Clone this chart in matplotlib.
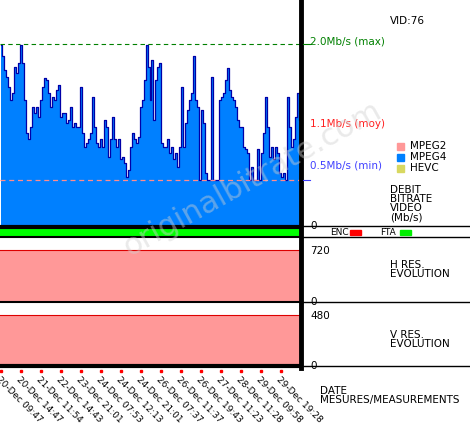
import matplotlib.pyplot as plt
import numpy as np
from matplotlib.lines import Line2D
from matplotlib.patches import Rectangle

# --- data ---
bitrate = [1.99, 1.86, 1.71, 1.64, 1.53, 1.38, 1.46, 1.75, 1.68, 1.79, 1.99, 1.79, 1.38, 1.02, 0.95,
           1.09, 1.31, 1.24, 1.31, 1.20, 1.38, 1.53, 1.62, 1.60, 1.46, 1.31, 1.42, 1.38, 1.49, 1.55,
           1.20, 1.24, 1.24, 1.13, 1.16, 1.31, 1.09, 1.13, 1.09, 1.09, 1.53, 1.02, 0.87, 0.91, 0.95,
           1.02, 1.42, 1.09, 0.91, 0.87, 0.95, 0.87, 1.16, 1.09, 0.76, 0.95, 1.20, 0.95, 0.87, 0.95,
           0.73, 0.76, 0.69, 0.54, 0.62, 0.87, 1.02, 0.95, 0.91, 0.98, 1.31, 1.38, 1.60, 1.99, 1.75,
           1.38, 1.82, 1.16, 1.60, 1.75, 1.79, 0.91, 0.87, 0.87, 0.95, 0.80, 0.87, 0.73, 0.80, 0.65,
           0.87, 1.53, 0.87, 1.13, 1.27, 1.38, 1.46, 1.86, 1.38, 1.31, 0.51, 1.27, 1.13, 0.58, 0.51,
           0.51, 1.64, 0.51, 0.51, 0.51, 1.38, 1.42, 1.46, 1.60, 1.73, 1.49, 1.42, 1.38, 1.31, 1.16,
           1.09, 1.09, 0.87, 0.84, 0.80, 0.51, 0.65, 0.51, 0.51, 0.84, 0.51, 0.80, 1.02, 1.42, 1.09,
           0.76, 0.87, 0.73, 0.87, 0.80, 0.58, 0.54, 0.58, 0.51, 1.42, 1.09, 0.87, 0.95, 1.20, 1.46,
           1.16]
br_max, br_avg, br_min = 2.0, 1.1, 0.5
h_res, v_res = 720, 480
dates = ['20-Dec 09:47', '20-Dec 14:47', '21-Dec 11:54', '22-Dec 14:43', '23-Dec 21:01',
         '24-Dec 07:53', '24-Dec 12:13', '24-Dec 21:01', '26-Dec 07:37', '26-Dec 11:37',
         '26-Dec 19:43', '27-Dec 11:23', '28-Dec 11:28', '29-Dec 09:58', '29-Dec 19:28']

W, H = 470, 430
fig = plt.figure(figsize=(W / 100, H / 100), dpi=100)
fig.patch.set_facecolor('white')

def box(x0, y0, x1, y1):
    return [x0 / W, 1 - y1 / H, (x1 - x0) / W, (y1 - y0) / H]

def fx(p):
    return p / W

def fy(p):
    return 1 - p / H

n = len(bitrate)
x = np.arange(n)

# bitrate panel
ax = fig.add_axes(box(0, 0, 300, 226))
ax.set_facecolor('#dcdcdc')
ax.fill_between(x, bitrate, step='mid', color='#0080ff', lw=0)
ax.step(x, bitrate, where='mid', color='#0000a8', lw=0.9)
ax.axhline(br_max, color='#008000', ls=(0, (4, 3)), lw=0.8)
ax.axhline(br_min, color='#ff8c8c', ls=(0, (4, 3)), lw=0.9)
ax.set_xlim(-0.5, n - 1)
ax.set_ylim(0, 2.48)
ax.axis('off')

# encryption bar
axe = fig.add_axes(box(0, 226, 300, 237))
axe.add_patch(Rectangle((0, 0), 1, 1, color='#00ff00'))
axe.axis('off')

# H / V res panels
for (y0, y1, val, top) in [(237, 302, h_res, 903), (302, 366, v_res, 602)]:
    a = fig.add_axes(box(0, y0, 300, y1))
    a.fill_between([0, 1], [val, val], color='#ff9898', lw=0)
    a.plot([0, 1], [val, val], color='#dd0000', lw=0.8)
    a.set_xlim(0, 1)
    a.set_ylim(0, top)
    a.axis('off')

# frame lines
fig.add_artist(Line2D([fx(301), fx(301)], [fy(0), fy(368)], color='black', lw=3.5))
for yy, lw in [(226.5, 3), (237, 1.5), (302, 1.5), (366, 3)]:
    fig.add_artist(Line2D([0, fx(301)], [fy(yy), fy(yy)], color='black', lw=lw))
for yy in [226, 237, 302, 366]:
    fig.add_artist(Line2D([fx(303), 1], [fy(yy), fy(yy)], color='black', lw=1))
for yy in [44, 180]:
    fig.add_artist(Line2D([fx(303), fx(310)], [fy(yy), fy(yy)],
                          color='#008000' if yy == 44 else '#4040ff', lw=0.8))

fs = 7.5
fig.text(fx(310), fy(42), f'{br_max:.1f}Mb/s (max)', color='#008000', fontsize=fs, va='center')
fig.text(fx(310), fy(124), f'{br_avg:.1f}Mb/s (moy)', color='#ff2020', fontsize=fs, va='center')
fig.text(fx(310), fy(165), f'{br_min:.1f}Mb/s (min)', color='#4040ff', fontsize=fs, va='center')
fig.text(fx(390), fy(21), 'VID:76', fontsize=fs, va='center')
for i, (lab, c) in enumerate([('MPEG2', '#ff9898'), ('MPEG4', '#0080ff'), ('HEVC', '#d8d860')]):
    yy = 146 + i * 11
    fig.add_artist(Rectangle((fx(397), fy(yy + 4)), 7 / W, 7 / H, color=c))
    fig.text(fx(410), fy(yy), lab, fontsize=fs, va='center')
fig.text(fx(390), fy(185), 'DEBIT\nBITRATE\nVIDEO\n(Mb/s)', fontsize=fs, va='top', linespacing=0.9)
fig.text(fx(310), fy(226), '0', fontsize=fs, va='center')
fig.text(fx(330), fy(232), 'ENC', fontsize=6.5, va='center')
fig.add_artist(Rectangle((fx(350), fy(235)), 11 / W, 5 / H, color='#ff0000'))
fig.text(fx(380), fy(232), 'FTA', fontsize=6.5, va='center')
fig.add_artist(Rectangle((fx(400), fy(235)), 11 / W, 5 / H, color='#00ee00'))
fig.text(fx(310), fy(251), str(h_res), fontsize=fs, va='center')
fig.text(fx(310), fy(302), '0', fontsize=fs, va='center')
fig.text(fx(390), fy(260), 'H RES.\nEVOLUTION', fontsize=fs, va='top', linespacing=0.9)
fig.text(fx(310), fy(316), str(v_res), fontsize=fs, va='center')
fig.text(fx(310), fy(366), '0', fontsize=fs, va='center')
fig.text(fx(390), fy(330), 'V RES.\nEVOLUTION', fontsize=fs, va='top', linespacing=0.9)
fig.text(fx(320), fy(386), 'DATE\nMESURES/MEASUREMENTS', fontsize=fs, va='top', linespacing=0.9)

# date ticks
for i, d in enumerate(dates):
    px = i * 20
    fig.add_artist(Rectangle((fx(px), fy(372)), 2 / W, 2 / H, color='#ff0000'))
    fig.text(fx(px + 1), fy(375), d, fontsize=6.5, rotation=-45, ha='left', va='top',
             rotation_mode='anchor')

fig.text(fx(118), fy(262), 'originalbitrate.com', fontsize=22, color='#d0d0d0', alpha=0.45,
         rotation=29, va='bottom')

fig.savefig('out.png', dpi=100)
